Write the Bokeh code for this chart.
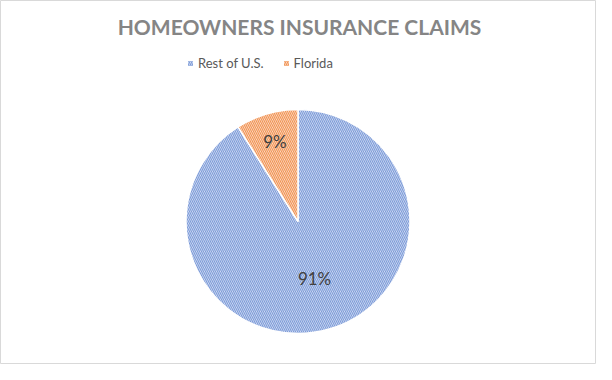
import numpy as np
from bokeh.plotting import figure
from bokeh.models import Range1d, Legend, LegendItem
from bokeh.core.properties import value
from bokeh.embed import file_html
from bokeh.resources import INLINE

title_text = "HOMEOWNERS INSURANCE CLAIMS"
categories = ["Rest of U.S.", "Florida"]
shares = [91, 9]
label_texts = ["91%", "9%"]
fill_colors = ["#dbe4f5", "#fce4d4"]
hatch_colors = ["#7e9cd9", "#f19455"]

W, H = 596, 364
p = figure(width=W, height=H, output_backend="svg", toolbar_location=None,
           x_range=Range1d(0, W), y_range=Range1d(0, H), min_border=0,
           background_fill_color="white", border_fill_color="white",
           outline_line_color="#d9d9d9")
p.axis.visible = False
p.grid.visible = False

cx, cy, r = 297.5, 143, 112
vals = np.array(shares, dtype=float)
frac = vals / vals.sum()
# clockwise from 12 o'clock
ends_cw = np.cumsum(frac) * 2 * np.pi
starts_cw = ends_cw - frac * 2 * np.pi
start_angle = np.pi / 2 - ends_cw
end_angle = np.pi / 2 - starts_cw
mid_cw = (starts_cw + ends_cw) / 2
label_r = np.array([0.53, 0.74]) * r
lx = cx + label_r * np.sin(mid_cw)
ly = cy + label_r * np.cos(mid_cw)

renderers = []
for i in range(len(categories)):
    rr = p.wedge(x=cx, y=cy, radius=r, start_angle=start_angle[i], end_angle=end_angle[i],
                 fill_color=fill_colors[i], hatch_color=hatch_colors[i], hatch_pattern="\\",
                 hatch_scale=4, hatch_weight=1.2,
                 line_color="white", line_width=1.5)
    renderers.append(rr)

p.text(x=lx, y=ly, text=label_texts, text_align="center", text_baseline="middle",
       text_font=value("Lato"), text_font_size="17px", text_color="#404040")

p.text(x=[W / 2 + 1], y=[H - 26], text=[title_text], text_align="center", text_baseline="middle",
       text_font=value("Lato"), text_font_style="bold", text_font_size="21px", text_color="#858585")

legend = Legend(items=[LegendItem(label=categories[i], renderers=[renderers[i]]) for i in range(len(categories))],
                orientation="horizontal", location=(186, 293),
                label_text_font="Lato", label_text_font_size="13px", label_text_color="#595959",
                glyph_width=8, glyph_height=8, spacing=18, label_standoff=4,
                border_line_color=None, background_fill_alpha=0, padding=0, margin=0)
p.add_layout(legend, "center")

open("out.html", "w").write(file_html(p, INLINE))
